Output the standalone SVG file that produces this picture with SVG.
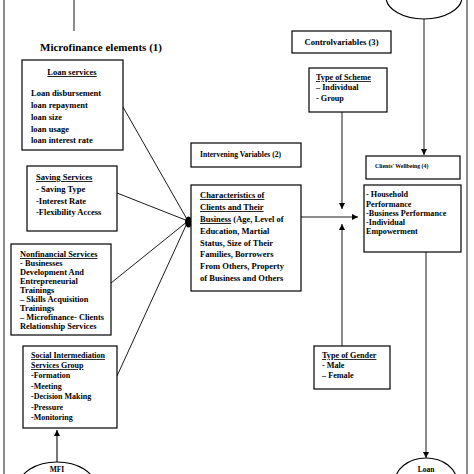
<svg xmlns="http://www.w3.org/2000/svg" width="474" height="474" viewBox="0 0 474 474">
<style>
.box{fill:#fff;stroke:#000;stroke-width:1.2}
.ln{stroke:#000;stroke-width:0.9;fill:none}
text{font-family:"Liberation Serif","Times New Roman",serif;font-weight:bold;fill:#000}
.t{font-size:8.5px}
.n{font-size:8.4px}
.m{font-size:8px}
.s{font-size:8.2px}
.u{text-decoration:underline}
</style>
<defs>
<marker id="ah" viewBox="0 0 10 10" refX="10" refY="5" markerWidth="6" markerHeight="6" markerUnits="userSpaceOnUse" orient="auto">
<path d="M0,0 L10,5 L0,10 z" fill="#000"/>
</marker>
</defs>
<rect width="474" height="474" fill="#fff"/>
<g id="frame">
<line class="ln" x1="4" y1="0" x2="4" y2="474"/>
<line class="ln" x1="467" y1="0" x2="467" y2="474"/>
</g>
<g id="connectors">
<line class="ln" x1="74" y1="0" x2="74" y2="31"/>
<line class="ln" x1="123" y1="107" x2="188" y2="221"/>
<line class="ln" x1="117" y1="193" x2="188" y2="221"/>
<line class="ln" x1="111" y1="283" x2="188" y2="221"/>
<line class="ln" x1="117" y1="376" x2="188" y2="221"/>
<ellipse cx="188.5" cy="222" rx="3.5" ry="5.5" fill="#000"/>
<line class="ln" x1="301" y1="217" x2="358" y2="217" marker-end="url(#ah)"/>
<line class="ln" x1="342" y1="112" x2="342" y2="209" marker-end="url(#ah)"/>
<line class="ln" x1="342" y1="346" x2="342" y2="224" marker-end="url(#ah)"/>
<line class="ln" x1="424" y1="19" x2="424" y2="155" marker-end="url(#ah)"/>
<line class="ln" x1="426" y1="252" x2="426" y2="458" marker-end="url(#ah)"/>
<line x1="57" y1="462" x2="57" y2="430" stroke="#777" stroke-width="2" marker-end="url(#ah)"/>
</g>
<g id="title">
<text x="40" y="51" style="font-size:11px">Microfinance elements (1)</text>
</g>
<g id="top-ellipse">
<ellipse class="box" cx="424" cy="-3" rx="38" ry="22"/>
</g>
<g id="control">
<rect class="box" x="292" y="31" width="99" height="22"/>
<text x="341.5" y="45" style="font-size:8.6px" text-anchor="middle">Controlvariables (3)</text>
</g>
<g id="loan-services">
<rect class="box" x="22" y="60" width="101" height="90"/>
<text x="72" y="75" class="t u" text-anchor="middle">Loan services</text>
<text x="31" y="96" class="t">Loan disbursement</text>
<text x="31" y="108" class="t">loan repayment</text>
<text x="31" y="120" class="t">loan size</text>
<text x="31" y="132" class="t">loan usage</text>
<text x="31" y="143" class="t">loan interest rate</text>
</g>
<g id="saving">
<rect class="box" x="27" y="166" width="90" height="65"/>
<text x="36" y="180" class="t u">Saving Services</text>
<text x="36" y="192" class="t">- Saving Type</text>
<text x="36" y="204" class="t">-Interest Rate</text>
<text x="36" y="215" class="t">-Flexibility Access</text>
</g>
<g id="nonfinancial">
<rect class="box" x="11" y="244" width="100" height="91"/>
<text x="20" y="257" class="n u">Nonfinancial Services</text>
<text x="20" y="266" class="n">- Businesses</text>
<text x="20" y="275" class="n">Development And</text>
<text x="20" y="284" class="n">Entrepreneurial</text>
<text x="20" y="293" class="n">Trainings</text>
<text x="20" y="302" class="n">– Skills Acquisition</text>
<text x="20" y="311" class="n">Trainings</text>
<text x="20" y="320" class="n">– Microfinance- Clients</text>
<text x="20" y="329" class="n">Relationship Services</text>
</g>
<g id="social">
<rect class="box" x="23" y="346" width="94" height="82"/>
<text x="31" y="358" class="m u">Social Intermediation</text>
<text x="31" y="368" class="m u">Services Group</text>
<text x="31" y="378" class="m">-Formation</text>
<text x="31" y="389" class="m">-Meeting</text>
<text x="31" y="399" class="m">-Decision Making</text>
<text x="31" y="410" class="m">-Pressure</text>
<text x="31" y="420" class="m">-Monitoring</text>
</g>
<g id="mfi">
<ellipse class="box" cx="57" cy="486" rx="38" ry="24"/>
<text x="57" y="472" style="font-size:7.5px" text-anchor="middle">MFI</text>
</g>
<g id="intervening">
<rect class="box" x="191" y="143" width="110" height="24"/>
<text x="200" y="157" style="font-size:7.6px">Intervening Variables (2)</text>
</g>
<g id="characteristics">
<rect class="box" x="191" y="185" width="110" height="106"/>
<text x="200" y="198" class="t u">Characteristics of</text>
<text x="200" y="210" class="t u">Clients and Their</text>
<text x="200" y="222" class="t"><tspan class="u">Business</tspan> (Age, Level of</text>
<text x="200" y="234" class="t">Education, Martial</text>
<text x="200" y="246" class="t">Status, Size of Their</text>
<text x="200" y="257" class="t">Families, Borrowers</text>
<text x="200" y="269" class="t">From Others, Property</text>
<text x="200" y="281" class="t">of Business and Others</text>
</g>
<g id="scheme">
<rect class="box" x="309" y="68" width="78" height="44"/>
<text x="316" y="80" class="s u">Type of Scheme</text>
<text x="316" y="90" class="s">– Individual</text>
<text x="316" y="101" class="s">- Group</text>
</g>
<g id="gender">
<rect class="box" x="314" y="346" width="76" height="43"/>
<text x="322" y="358" class="s u">Type of Gender</text>
<text x="322" y="368" class="s">- Male</text>
<text x="322" y="378" class="s">– Female</text>
</g>
<g id="wellbeing">
<rect class="box" x="366" y="156" width="94" height="23"/>
<text x="375" y="168" style="font-size:5.8px">Clients' Wellbeing (4)</text>
</g>
<g id="outcomes">
<rect class="box" x="364" y="185" width="97" height="67"/>
<text x="366" y="197" class="s">- Household</text>
<text x="366" y="207" class="s">Performance</text>
<text x="366" y="216" class="s">-Business Performance</text>
<text x="366" y="225" class="s">-Individual</text>
<text x="366" y="234" class="s">Empowerment</text>
</g>
<g id="loan">
<ellipse class="box" cx="426" cy="482" rx="31" ry="24"/>
<text x="426" y="472" style="font-size:7.5px" text-anchor="middle">Loan</text>
</g>
</svg>
